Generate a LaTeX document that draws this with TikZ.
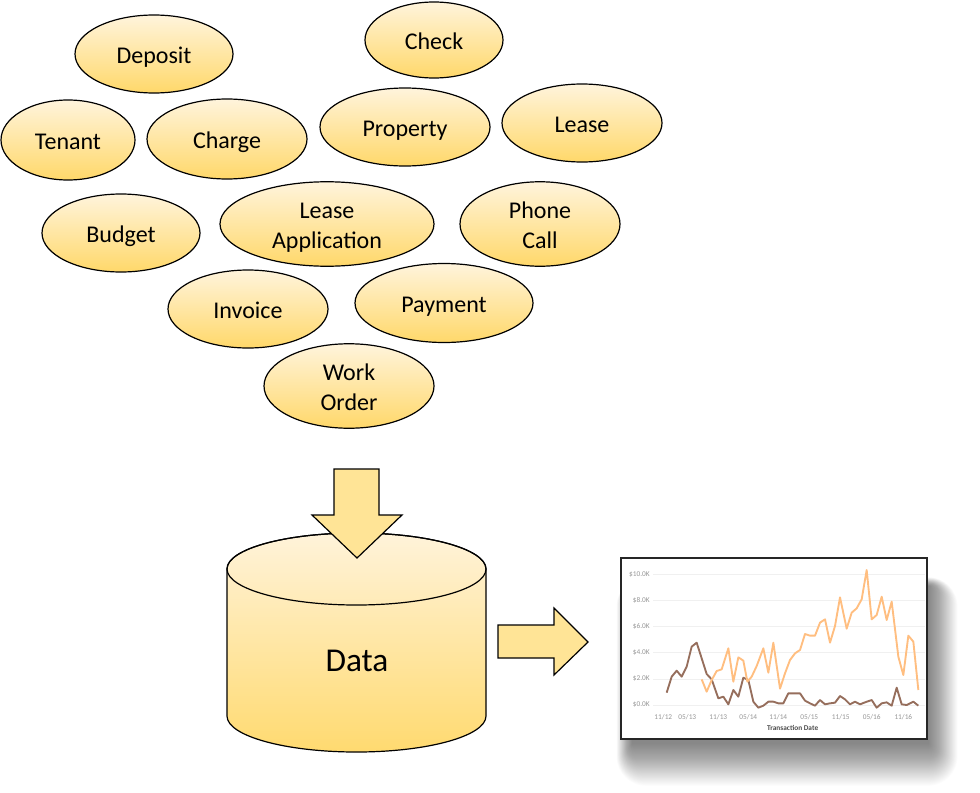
\documentclass[tikz,border=0pt]{standalone}
\usepackage{fontspec}
\setmainfont{Carlito}
\usetikzlibrary{shapes.geometric}
\definecolor{bubTop}{RGB}{255,244,220}
\definecolor{bubBot}{RGB}{255,216,106}
\definecolor{arrFill}{RGB}{255,228,150}
\definecolor{cylTop}{RGB}{255,243,218}
\definecolor{cylBot}{RGB}{255,218,112}
\definecolor{brownLine}{RGB}{150,110,92}
\definecolor{orangeLine}{RGB}{255,190,128}
\definecolor{axisGray}{RGB}{150,150,150}
\definecolor{gridGray}{RGB}{240,240,240}
\newcommand\bstrut{\rule[-4pt]{0pt}{21.9pt}}
\tikzset{
  bubble/.style={ellipse, draw=black, line width=0.9pt, top color=bubTop, bottom color=bubBot,
    inner sep=0pt, align=center, font=\fontsize{18}{21.5}\selectfont},
  dims/.style 2 args={minimum width=#1*0.75pt, minimum height=#2*0.75pt},
  blockarrow/.style={draw=black, line width=0.9pt, fill=arrFill, line join=miter},
  ylab/.style={anchor=east, text=axisGray, font=\fontsize{5.5}{6}\selectfont, inner sep=0pt},
  xlab/.style={anchor=center, text=axisGray, font=\fontsize{5.5}{6}\selectfont, inner sep=0pt},
}
\begin{document}
\begin{tikzpicture}[x=0.75pt,y=-0.75pt]
\useasboundingbox (0,0) rectangle (980,792);
\fill[white] (0,0) rectangle (980,792);

% bubbles
\node[bubble, dims={158}{78}] (deposit) at (154,54) {Deposit\bstrut};
\node[bubble, dims={134}{80}] (tenant) at (68,140) {Tenant\bstrut};
\node[bubble, dims={160}{80}] (charge) at (227,139) {Charge\bstrut};
\node[bubble, dims={138}{76}] (check) at (434,40) {Check\bstrut};
\node[bubble, dims={170}{78}] (property) at (405,127) {Property\bstrut};
\node[bubble, dims={160}{78}] (lease) at (582,123) {Lease\bstrut};
\node[bubble, dims={158}{78}] (budget) at (121,233) {Budget\bstrut};
\node[bubble, dims={214}{78}] (leaseapp) at (327,224) {Lease\bstrut\\Application\bstrut};
\node[bubble, dims={160}{78}] (phone) at (540,224) {Phone\bstrut\\Call\bstrut};
\node[bubble, dims={160}{78}] (invoice) at (248,309) {Invoice\bstrut};
\node[bubble, dims={178}{79}] (payment) at (444,303) {Payment\bstrut};
\node[bubble, dims={170}{79}] (workorder) at (349,386) {Work\bstrut\\Order\bstrut};

% database cylinder
\shade[top color=cylTop, bottom color=cylBot, draw=black, line width=0.9pt]
  (227,569) -- (227,716) arc[start angle=180, end angle=0, x radius=129.5, y radius=36]
  -- (486,569) arc[start angle=0, end angle=-180, x radius=129.5, y radius=36] -- cycle;
\draw[line width=0.9pt] (356.5,569) ellipse[x radius=129.5, y radius=36];
\node[font=\fontsize{25}{30}\selectfont, inner sep=0pt] (db) at (357,661) {Data};

% block arrows
\draw[blockarrow] (334,469) -- (379,469) -- (379,515) -- (402,515) -- (357,558)
  -- (312,515) -- (334,515) -- cycle;
\draw[blockarrow] (498,625) -- (554,625) -- (554,608) -- (588,642) -- (554,675)
  -- (554,658) -- (498,658) -- cycle;

% chart shadow (soft, layered)
\foreach \i in {0,...,44}{
  \fill[black, opacity=0.011, rounded corners=\i*0.5pt]
    (632-\i*0.35, 586-\i*0.2) rectangle (929+\i*0.65, 744+\i*0.95);
}
% chart frame
\node[draw=black!85, line width=1.3pt, fill=white, minimum width=306*0.75pt,
  minimum height=181*0.75pt, inner sep=0pt] (chart) at (774,648.5) {};

\begin{scope}[shift={(600,540)}, x=0.25pt, y=-0.25pt]
  \foreach \yy in {495,416.6,338.2,259.8,181.4,103}{
    \draw[gridGray, line width=0.5pt] (160,\yy) -- (975,\yy);
  }
  \draw[brownLine, line width=1.4pt, line join=round]
    (200,458) -- (215,410) -- (230,392) -- (245,410) -- (260,380) -- (275,320) -- (290,308)
    -- (305,355) -- (320,402) -- (335,418) -- (355,475) -- (370,470) -- (385,493) -- (400,450)
    -- (415,470) -- (430,413) -- (445,420) -- (460,485) -- (475,503) -- (490,497) -- (505,485)
    -- (520,485) -- (535,490) -- (550,490) -- (565,460) -- (580,460) -- (600,460) -- (615,482)
    -- (630,490) -- (645,497) -- (660,480) -- (675,493) -- (690,490) -- (705,488) -- (720,468)
    -- (735,478) -- (750,493) -- (765,485) -- (780,493) -- (795,487) -- (815,480) -- (830,503)
    -- (845,490) -- (860,487) -- (875,497) -- (890,443) -- (905,493) -- (920,495) -- (940,485)
    -- (955,497);
  \draw[orangeLine, line width=1.4pt, line join=round]
    (305,418) -- (320,455) -- (335,420) -- (350,393) -- (365,388) -- (385,325) -- (400,425)
    -- (415,352) -- (430,362) -- (442,425) -- (455,410) -- (470,378) -- (490,325) -- (505,398)
    -- (520,308) -- (540,446) -- (555,400) -- (570,360) -- (585,340) -- (600,330) -- (615,282)
    -- (630,287) -- (645,287) -- (660,248) -- (675,238) -- (690,308) -- (705,258) -- (720,172)
    -- (740,266) -- (755,218) -- (770,205) -- (785,178) -- (800,90) -- (815,238) -- (830,225)
    -- (845,170) -- (860,240) -- (875,185) -- (895,350) -- (910,405) -- (925,287) -- (940,305)
    -- (955,450);
  \node[ylab] (y10) at (150,103) {\$10.0K};
  \node[ylab] (y8) at (150,181.4) {\$8.0K};
  \node[ylab] (y6) at (150,259.8) {\$6.0K};
  \node[ylab] (y4) at (150,338.2) {\$4.0K};
  \node[ylab] (y2) at (150,416.6) {\$2.0K};
  \node[ylab] (y0) at (150,495) {\$0.0K};
  \node[xlab] (x1) at (190,530) {11/12};
  \node[xlab] (x2) at (262,530) {05/13};
  \node[xlab] (x3) at (355,530) {11/13};
  \node[xlab] (x4) at (445,530) {05/14};
  \node[xlab] (x5) at (535,530) {11/14};
  \node[xlab] (x6) at (628,530) {05/15};
  \node[xlab] (x7) at (722,530) {11/15};
  \node[xlab] (x8) at (815,530) {05/16};
  \node[xlab] (x9) at (910,530) {11/16};
  \node[xlab, text=black!70, font=\fontsize{5.5}{6}\bfseries] (xt) at (578,565) {Transaction Date};
\end{scope}
\end{tikzpicture}
\end{document}
